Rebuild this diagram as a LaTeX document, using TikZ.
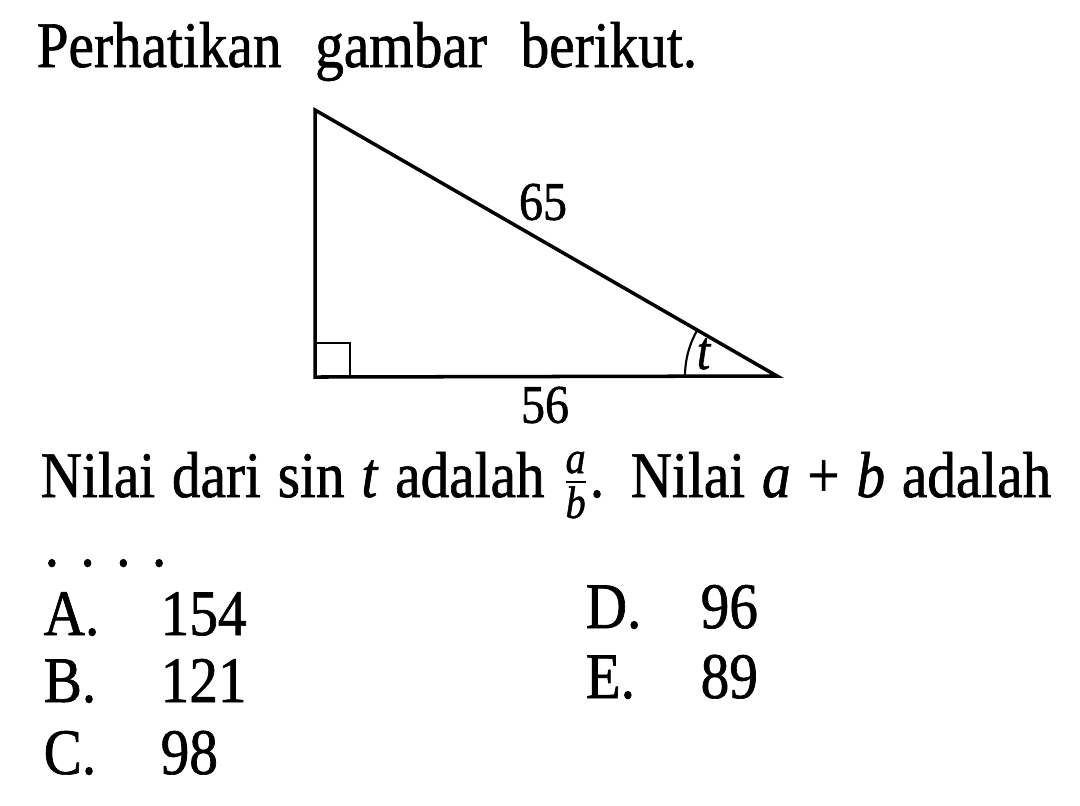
\documentclass[tikz,border=0pt]{standalone}
\usepackage{amsmath}
\usepackage{fontspec}
\setmainfont{Liberation Serif}[FakeStretch=0.88,FakeBold=1]
\usetikzlibrary{positioning,calc}
\tikzset{txt/.style={anchor=base west,inner sep=0pt,font=\fontsize{18.5}{22}\selectfont},
  lbl/.style={inner sep=0pt,font=\fontsize{15.5}{18}\selectfont}}

\begin{document}
\begin{tikzpicture}[x=0.01cm,y=-0.01cm]
\useasboundingbox (0,0) rectangle (1080,805);

\node[txt] (title) at (36,67) {\makebox[6.6cm][s]{Perhatikan gambar berikut.}};

% segitiga siku-siku
\coordinate (P) at (315,110);
\coordinate (Q) at (315,377);
\coordinate (R) at (777,376);
\draw[line width=1pt,line join=miter] (P) -- (Q) -- (R) -- cycle;
\draw[line width=0.6pt] ($(Q)+(0,-34)$) -- ++(35,0) -- ++(0,34);
\draw[line width=0.6pt] ($(R)+(-92,0)$) arc[start angle=180,end angle=210,radius=92];

\node[lbl] (hyp) at (543,202) {65};
\node[lbl] (alas) at (545,405) {56};
\node[lbl] (sudut) at (704,354) {\textit{t}};

\node[txt] (soal) at (40,497) {\makebox[10.1cm][s]{Nilai dari sin \textit{t} adalah $\frac{\text{\itshape a}}{\text{\itshape b}}$. Nilai \textit{a} + \textit{b} adalah}};
\node[txt] (titik) at (44,566) {.\hspace{0.33em}.\hspace{0.33em}.\hspace{0.33em}.};

\node[txt] (A) at (43,635) {A.};
\node[txt] (B) at (43,702) {B.};
\node[txt] (C) at (43,774) {C.};
\node[txt] (D) at (585,628) {D.};
\node[txt] (E) at (585,698) {E.};

\node[txt] (a1) at (160,635) {154};
\node[txt] (b1) at (160,702) {121};
\node[txt] (c1) at (160,774) {98};
\node[txt] (d1) at (700,628) {96};
\node[txt] (e1) at (700,698) {89};

\end{tikzpicture}
\end{document}
